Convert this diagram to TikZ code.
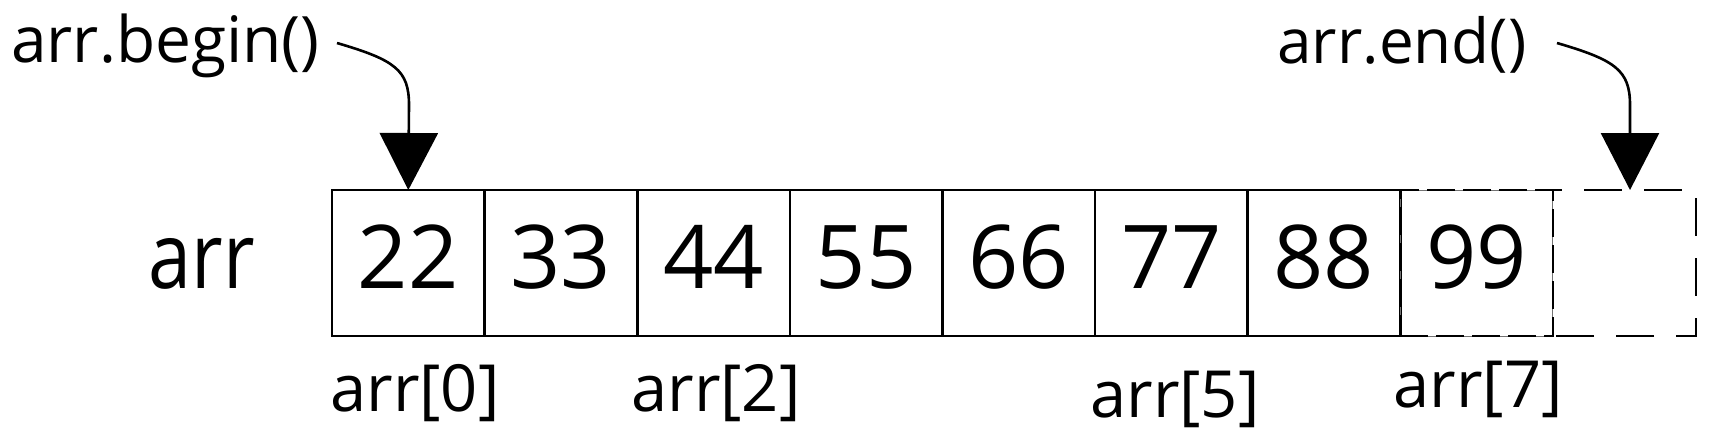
\documentclass[tikz,border=0pt]{standalone}
\usepackage{fontspec}
\setmainfont{Open Sans}
\newfontfamily\narrowfont[FakeStretch=0.84]{Open Sans}
\usetikzlibrary{arrows.meta,calc}
\begin{document}
\begin{tikzpicture}[x=1pt,y=-1pt,
  cell/.style={draw, line width=2.6pt, minimum width=152.6pt, minimum height=146pt,
    inner sep=0pt, outer sep=0pt, text height=50pt, text depth=0pt,
    font=\fontsize{88}{90}\selectfont},
  lastcell/.style={cell, draw=black!55, line width=1pt,
    postaction={draw=black, line width=2.6pt, dash pattern=on 28pt off 8pt}},
  ghost/.style={minimum width=143pt, minimum height=146pt, inner sep=0pt, outer sep=0pt},
  ghostline/.style={line width=2.6pt, dash pattern=on 38pt off 22pt, dash phase=29pt},
  idx/.style={font=\fontsize{65}{70}\selectfont, inner sep=0pt, anchor=base},
  ptr/.style={line width=2.6pt, -{Triangle[length=57pt,width=58pt]}},
]
\useasboundingbox (0,0) rectangle (1712,432);

% cells
\foreach \v [count=\i from 0] in {22,33,44,55,66,77,88} {
  \node[cell] (c\i) at ({408.3+152.6*\i},263) {\v};
}
\node[lastcell] (c7) at ({408.3+152.6*7},263) {99};
\node[ghost] (c8) at (1624.5,263) {};
\draw[ghostline] (c8.north west) -- (c8.north east) -- (c8.south east) -- (c8.south west);

% array name
\node[inner sep=0pt, anchor=base, font=\narrowfont\fontsize{92}{94}\selectfont] (name) at (202,288) {arr};

% index labels
\node[idx] (i0) at (415,411) {arr[0]};
\node[idx] (i2) at (716,411) {arr[2]};
\node[idx] (i5) at (1175,417) {arr[5]};
\node[idx] (i7) at (1478,407) {arr[7]};

% iterator labels
\node[inner sep=0pt, anchor=base, font=\fontsize{64}{70}\selectfont] (beg) at (165.5,62) {arr.begin()};
\node[inner sep=0pt, anchor=base, font=\fontsize{62}{66}\selectfont] (endl) at (1402,63) {arr.end()};

% pointers
\coordinate (bs) at (337,43);
\coordinate (es) at (1557,43);
\coordinate (et) at (1630,190);
\draw[ptr] (bs) .. controls (395,60) and (409,70) .. (409,105) -- (c0.north);
\draw[ptr] (es) .. controls (1615,60) and (1630,70) .. (1630,105) -- (et);
\end{tikzpicture}
\end{document}
